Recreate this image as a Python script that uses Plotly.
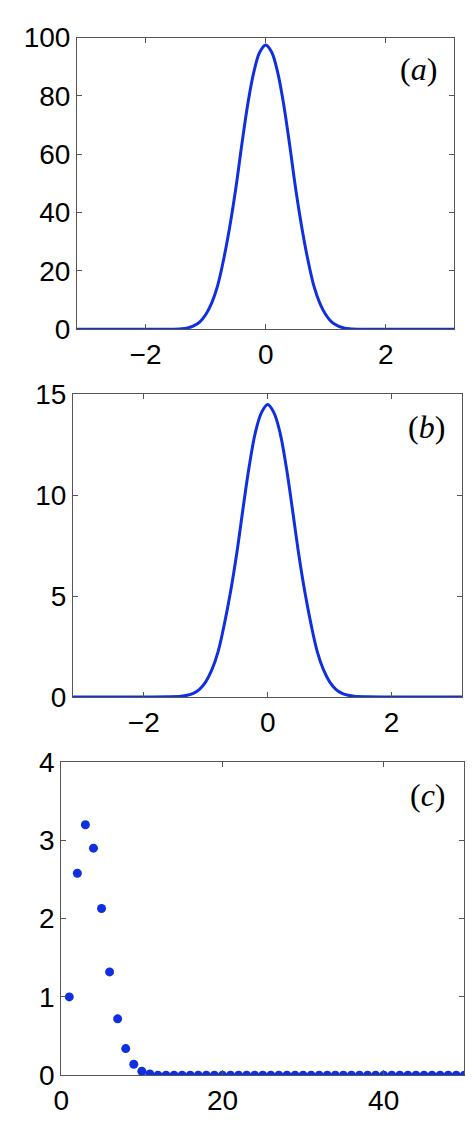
import plotly.graph_objects as go

# panel (a) and (b): profile sampled along x
x_prof = [-3.1416, -2.5, -2.0, -1.6, -1.4, -1.3, -1.2, -1.1, -1.0, -0.9, -0.8, -0.7, -0.6, -0.5, -0.4, -0.3, -0.2, -0.1,
          0.0, 0.1, 0.2, 0.3, 0.4, 0.5, 0.6, 0.7, 0.8, 0.9, 1.0, 1.1, 1.2, 1.3, 1.4, 1.6, 2.0, 2.5, 3.1416]
y_a = [0, 0, 0, 0.03, 0.2, 0.5, 1.2, 2.5, 5, 9, 15, 24, 35, 48, 63, 77, 88, 95,
       97.5, 95, 88, 77, 63, 48, 35, 24, 15, 9, 5, 2.5, 1.2, 0.5, 0.2, 0.03, 0, 0, 0]
y_b = [0, 0, 0, 0.005, 0.03, 0.08, 0.18, 0.38, 0.75, 1.35, 2.25, 3.6, 5.2, 7.1, 9.3, 11.4, 13.1, 14.1,
       14.5, 14.1, 13.1, 11.4, 9.3, 7.1, 5.2, 3.6, 2.25, 1.35, 0.75, 0.38, 0.18, 0.08, 0.03, 0.005, 0, 0, 0]

# panel (c): discrete values n = 1..50
n_c = list(range(1, 51))
y_c = [1.0, 2.58, 3.2, 2.9, 2.13, 1.32, 0.72, 0.34, 0.14, 0.05, 0.015] + [0.0] * 39

W, H = 474, 1126
blue = "#1030e0"
font = dict(family="Liberation Sans, Arial", size=28, color="black")

def dom_x(l, r):
    return [l / W, r / W]

def dom_y(t, b):
    return [1 - b / H, 1 - t / H]

fig = go.Figure()
fig.add_trace(go.Scatter(x=x_prof, y=y_a, mode="lines", line=dict(color=blue, width=3, shape="spline"),
                         xaxis="x", yaxis="y"))
fig.add_trace(go.Scatter(x=x_prof, y=y_b, mode="lines", line=dict(color=blue, width=3, shape="spline"),
                         xaxis="x2", yaxis="y2"))
fig.add_trace(go.Scatter(x=n_c, y=y_c, mode="markers", marker=dict(color=blue, size=9),
                         xaxis="x3", yaxis="y3"))

ax = dict(showline=True, mirror="ticks", linecolor="#555", linewidth=1, ticks="inside", ticklen=5,
          tickcolor="#555", showgrid=False, zeroline=False, tickfont=font)

fig.update_layout(
    width=W, height=H, showlegend=False, plot_bgcolor="white", paper_bgcolor="white",
    margin=dict(l=0, r=0, t=0, b=0),
    xaxis=dict(ax, domain=dom_x(62, 446), range=[-3.1416, 3.1416], tickvals=[-2, 0, 2],
               ticktext=["\u22122", "0", "2"], anchor="y"),
    yaxis=dict(ax, domain=dom_y(15, 315), range=[0, 100], tickvals=[0, 20, 40, 60, 80, 100], anchor="x"),
    xaxis2=dict(ax, domain=dom_x(58, 454), range=[-3.1416, 3.1416], tickvals=[-2, 0, 2],
                ticktext=["\u22122", "0", "2"], anchor="y2"),
    yaxis2=dict(ax, domain=dom_y(382, 693), range=[0, 15], tickvals=[0, 5, 10, 15], anchor="x2"),
    xaxis3=dict(ax, domain=dom_x(46, 456), range=[0, 50], tickvals=[0, 20, 40], anchor="y3"),
    yaxis3=dict(ax, domain=dom_y(760, 1082), range=[0, 4], tickvals=[0, 1, 2, 3, 4], anchor="x3"),
)

lab_font = dict(family="Liberation Serif, Times New Roman", size=32, color="black")
for ref, txt in [("", "(<i>a</i>)"), ("2", "(<i>b</i>)"), ("3", "(<i>c</i>)")]:
    fig.add_annotation(x=0.96, y=0.96, xref=f"x{ref} domain", yref=f"y{ref} domain", text=txt,
                       showarrow=False, xanchor="right", yanchor="top", font=lab_font)

fig.write_html("out.html")
